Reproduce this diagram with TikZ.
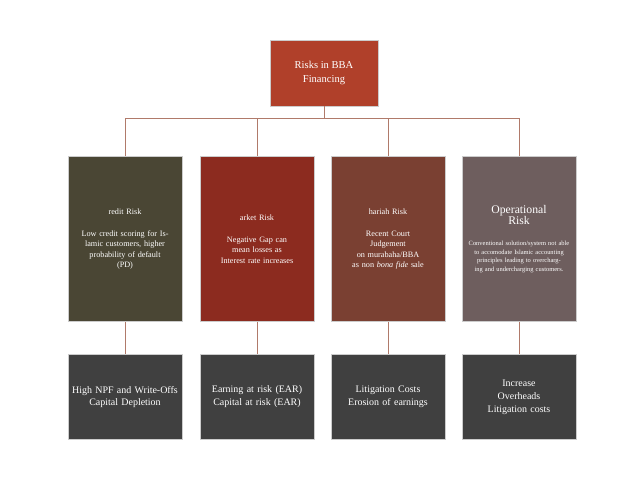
\documentclass[tikz,border=0pt]{standalone}
\usepackage{fontspec}
\setmainfont{Liberation Serif}
\definecolor{topred}{HTML}{B0402A}
\definecolor{creditc}{HTML}{4A4634}
\definecolor{marketc}{HTML}{8C2B1F}
\definecolor{shariahc}{HTML}{7A4032}
\definecolor{operc}{HTML}{6E5E5E}
\definecolor{lowc}{HTML}{404040}
\definecolor{linkc}{HTML}{B07A6A}
\begin{document}
\begin{tikzpicture}
    [x=0.03cm, y=-0.03cm,
     box/.style={draw=white!80!black, line width=0.8pt, text=white, align=center,
       inner sep=2pt, font=\fontsize{7}{9}\selectfont},
     riskbox/.style={box, minimum width=3.42cm, minimum height=4.95cm, text width=3.2cm},
     lowbox/.style={box, fill=lowc, minimum width=3.42cm, minimum height=2.55cm, text width=3.2cm,
       font=\fontsize{8.5}{11}\selectfont},
     title/.style={font=\fontsize{10}{13}\selectfont},
     link/.style={linkc, line width=0.8pt}]
  \useasboundingbox (0,0) rectangle (638,478);

  \node[box, fill=topred, minimum width=3.24cm, minimum height=1.98cm, font=\fontsize{9}{12}\selectfont]
    (top) at (324,73) {Risks in BBA\\Financing};

  \node[riskbox, fill=creditc] (credit) at (125,239)
    {{\title Credit Risk}\\[10pt]Low credit scoring for Islamic customers, higher probability of default\\(PD)};
  \node[riskbox, fill=marketc] (market) at (257,239)
    {{\title Market Risk}\\[10pt]Negative Gap can mean losses as\\Interest rate increases};
  \node[riskbox, fill=shariahc] (shariah) at (388,239)
    {{\title Shariah Risk}\\[10pt]Recent Court\\Judgement\\on murabaha/BBA as non \textit{bona fide} sale};
  \node[riskbox, fill=operc, font=\fontsize{5.5}{7.5}\selectfont] (oper) at (519,239)
    {{\fontsize{10}{13}\selectfont Operational\\Risk}\\[10pt]Conventional solution/system not able to accomodate Islamic accounting principles leading to overcharging and undercharging customers.};

  \node[lowbox] (credit2) at (125,397) {High NPF and Write-Offs\\Capital Depletion};
  \node[lowbox] (market2) at (257,397) {Earning at risk (EAR)\\Capital at risk (EAR)};
  \node[lowbox] (shariah2) at (388,397) {Litigation Costs\\Erosion of earnings};
  \node[lowbox] (oper2) at (519,397) {Increase\\Overheads\\Litigation costs};

  \coordinate (bus) at (324,118);
  \foreach \n in {credit, market, shariah, oper} {
    \draw[link] (top.south) -- (bus) -| (\n.north);
    \draw[link] (\n.south) -- (\n2.north);
  }
\end{tikzpicture}
\end{document}
